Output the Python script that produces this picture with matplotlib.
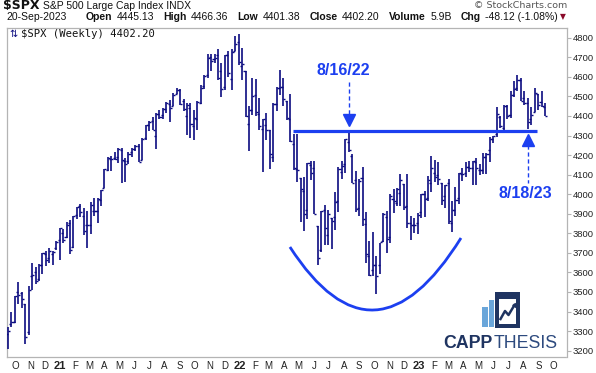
import matplotlib
matplotlib.use('Agg')
import matplotlib.pyplot as plt
import numpy as np
import pandas as pd
from matplotlib.patches import Rectangle, PathPatch
from matplotlib.path import Path

# ---------------- data (weekly OHLC, $SPX) ----------------
start_week = '2020-09-21'
opens = [3285, 3334, 3349, 3500, 3493, 3441, 3297, 3583, 3600, 3567, 3640, 3694, 3675, 3694, 3723,
         3764, 3803, 3781, 3851, 3731, 3892, 3939, 3886, 3842, 3844, 3913, 3916, 3969, 4034, 4124, 4179,
         4185, 4192, 4228, 4169, 4170, 4216, 4229, 4248, 4173, 4285, 4356, 4372, 4296, 4409, 4407, 4438,
         4461, 4450, 4514, 4535, 4474, 4402, 4442, 4348, 4385, 4464, 4553, 4610, 4701, 4689, 4712, 4628,
         4548, 4710, 4587, 4733,
         4778, 4655, 4632, 4357, 4432, 4505, 4412, 4332, 4354, 4327, 4189, 4462, 4541, 4547, 4474, 4385,
         4256, 4131, 4081, 4014, 3920, 4151, 4134, 3838, 3715, 3920, 3792, 3880, 3883, 3965, 4112, 4155,
         4269, 4195, 4071, 3930, 4084, 3849, 3682, 3610, 3636, 3638, 3762, 3881, 3780, 3977, 3956, 4005,
         4052, 3939, 3853, 3843,
         3853, 3911, 3999, 3979, 4056, 4106, 4097, 4057, 3993, 4055, 3855, 3918, 3982, 4102, 4110, 4140,
         4134, 4166, 4124, 4126, 4191, 4226, 4282, 4308, 4396, 4337, 4452, 4404, 4506, 4543, 4585, 4492,
         4464, 4384, 4420, 4511, 4473, 4445]
highs = [3320, 3398, 3482, 3549, 3502, 3441, 3529, 3646, 3628, 3644, 3699, 3712, 3726, 3711, 3760,
         3827, 3823, 3859, 3870, 3889, 3937, 3950, 3928, 3914, 3960, 3983, 3978, 4020, 4130, 4192, 4194,
         4218, 4238, 4237, 4187, 4218, 4234, 4249, 4258, 4286, 4355, 4372, 4393, 4416, 4430, 4442, 4470,
         4480, 4516, 4545, 4536, 4486, 4465, 4466, 4429, 4475, 4559, 4608, 4718, 4719, 4718, 4744, 4672,
         4713, 4731, 4740, 4808,
         4819, 4749, 4632, 4453, 4595, 4590, 4490, 4385, 4416, 4327, 4465, 4546, 4637, 4594, 4474, 4513,
         4308, 4307, 4081, 4090, 4158, 4168, 4169, 3838, 3913, 3946, 3918, 3880, 4013, 4140, 4168, 4280,
         4325, 4204, 4120, 4077, 4140, 3907, 3760, 3807, 3686, 3752, 3905, 3912, 4003, 4029, 4034, 4101,
         4053, 4101, 3890, 3878,
         3906, 4003, 4016, 4094, 4195, 4176, 4163, 4057, 4048, 4079, 3964, 4039, 4110, 4133, 4164, 4170,
         4171, 4187, 4154, 4212, 4213, 4290, 4299, 4448, 4401, 4458, 4456, 4528, 4578, 4607, 4594, 4527,
         4491, 4447, 4541, 4514, 4527, 4466]
lows = [3209, 3323, 3343, 3440, 3419, 3233, 3279, 3511, 3543, 3556, 3594, 3633, 3647, 3636, 3715,
        3663, 3750, 3777, 3694, 3725, 3874, 3885, 3789, 3723, 3794, 3886, 3853, 3938, 4034, 4118, 4118,
        4176, 4157, 4056, 4062, 4155, 4188, 4220, 4165, 4173, 4278, 4321, 4327, 4233, 4382, 4386, 4417,
        4367, 4450, 4513, 4457, 4427, 4305, 4288, 4279, 4329, 4459, 4537, 4595, 4630, 4672, 4585, 4495,
        4532, 4600, 4531, 4733,
        4662, 4582, 4395, 4223, 4405, 4401, 4327, 4115, 4279, 4129, 4162, 4425, 4507, 4450, 4381, 4269,
        4124, 4062, 3859, 3810, 3875, 4074, 3900, 3637, 3705, 3738, 3742, 3721, 3819, 3910, 4079, 4107,
        4218, 4057, 3907, 3887, 3837, 3648, 3584, 3584, 3492, 3591, 3758, 3698, 3750, 3906, 3938, 3938,
        3918, 3827, 3764, 3800,
        3794, 3877, 3885, 3966, 4011, 4060, 4048, 3943, 3928, 3846, 3809, 3889, 3951, 4069, 4086, 4114,
        4049, 4048, 4099, 4103, 4103, 4167, 4261, 4292, 4337, 4328, 4385, 4389, 4497, 4528, 4474, 4458,
        4335, 4356, 4419, 4430, 4448, 4401]
closes = [3298, 3348, 3477, 3484, 3465, 3270, 3509, 3585, 3558, 3638, 3699, 3663, 3709, 3703, 3756,
          3825, 3768, 3841, 3714, 3887, 3934, 3907, 3811, 3842, 3943, 3913, 3975, 4020, 4129, 4185, 4180,
          4181, 4233, 4174, 4156, 4204, 4230, 4247, 4166, 4281, 4352, 4370, 4327, 4412, 4395, 4437, 4468,
          4442, 4509, 4535, 4459, 4433, 4455, 4357, 4391, 4471, 4545, 4605, 4697, 4683, 4698, 4595, 4538,
          4712, 4620, 4726, 4766,
          4677, 4663, 4398, 4432, 4501, 4419, 4349, 4385, 4329, 4204, 4463, 4543, 4546, 4488, 4392, 4272,
          4132, 4123, 4024, 3901, 4158, 4109, 3901, 3675, 3912, 3825, 3899, 3863, 3962, 4130, 4145, 4280,
          4228, 4058, 3924, 4067, 3873, 3693, 3586, 3640, 3583, 3753, 3901, 3771, 3993, 3965, 4026, 4072,
          3934, 3852, 3845, 3840,
          3895, 3999, 3973, 4071, 4136, 4090, 4080, 3970, 4046, 3862, 3917, 3971, 4109, 4105, 4138, 4133,
          4169, 4136, 4124, 4192, 4205, 4282, 4299, 4410, 4348, 4450, 4399, 4505, 4536, 4582, 4478, 4464,
          4370, 4406, 4515, 4457, 4450, 4402]

y_ticks = [3200, 3300, 3400, 3500, 3600, 3700, 3800, 3900, 4000, 4100, 4200, 4300, 4400, 4500, 4600, 4700, 4800]
neckline = 4323
neck_span = [82.8, 153.7]
arrow_weeks = [99, 151]          # 8/16/22 high and 8/18/23 low
arrow_labels = ['8/16/22', '8/18/23']
arc_pts = [(81.9, 3730), (106.4, 3063), (131.6, 3776)]

# ---------------- figure ----------------
W, H = 596, 373
fig = plt.figure(figsize=(W / 100, H / 100), dpi=100)
fig.patch.set_facecolor('white')
ax = fig.add_axes([7 / W, (H - 357) / H, (567 - 7) / W, (357 - 28) / H])

n = len(closes)
x = np.arange(n)
bar_col = '#0c0c80'
ax.vlines(x, lows, highs, color=bar_col, lw=1.2, zorder=3)
ax.hlines(opens, x - 0.6, x, color=bar_col, lw=1.0, zorder=3)
ax.hlines(closes, x, x + 0.6, color=bar_col, lw=1.0, zorder=3)

ax.set_xlim(-0.3, 162.4)
ax.set_ylim(3167.6, 4849.6)

# annotations
blue = '#1c3ff0'
ax.plot(neck_span, [neckline, neckline], color=blue, lw=2.3, solid_capstyle='butt', zorder=4)
verts = [arc_pts[0], arc_pts[1], arc_pts[2]]
ax.add_patch(PathPatch(Path(verts, [Path.MOVETO, Path.CURVE3, Path.CURVE3]),
                       fill=False, edgecolor=blue, lw=2.0, zorder=4))
# arrow 1 (down)
ax.plot([arrow_weeks[0]] * 2, [4573, 4405], color=blue, lw=1.0, ls=(0, (3, 2)), zorder=4)
ax.plot(arrow_weeks[0], 4380, marker='v', color=blue, ms=8.5, mec=blue, zorder=5)
ax.text(97.3, 4632, arrow_labels[0], color=blue, fontsize=11.5, fontweight='bold',
        family='Liberation Sans', ha='center', va='center', zorder=5)
# arrow 2 (up)
ax.plot([arrow_weeks[1]] * 2, [4251, 4057], color=blue, lw=1.0, ls=(0, (3, 2)), zorder=4)
ax.plot(arrow_weeks[1], 4276, marker='^', color=blue, ms=8.5, mec=blue, zorder=5)
ax.text(150.2, 4005, arrow_labels[1], color=blue, fontsize=11.5, fontweight='bold',
        family='Liberation Sans', ha='center', va='center', zorder=5)

# axes styling
grey = '#b4b4b4'
for s in ['left', 'top', 'right']:
    ax.spines[s].set_color(grey)
    ax.spines[s].set_linewidth(0.9)
ax.spines['bottom'].set_color(grey)
ax.spines['bottom'].set_linestyle((0, (1, 1)))
ax.spines['bottom'].set_linewidth(0.9)
ax.yaxis.tick_right()
ax.set_yticks(y_ticks)
ax.set_yticklabels([str(v) for v in y_ticks], fontsize=6.8, family='Liberation Sans', color='#222222')
ax.tick_params(axis='y', length=3, width=0.8, color=grey, pad=1)

# month labels
weeks = pd.date_range(start_week, periods=n, freq='7D')
t0 = weeks[0]
months = pd.date_range('2020-10-01', '2023-10-01', freq='MS')
pos, labs = [], []
for m in months:
    pos.append((m - t0).days / 7.0 + 0.6)
    labs.append(str(m.year)[2:] if m.month == 1 else m.strftime('%b')[0])
ax.set_xticks(pos)
ax.set_xticklabels(labs, fontsize=7, family='Liberation Sans', color='#222222')
for lab, m in zip(ax.get_xticklabels(), months):
    if m.month == 1:
        lab.set_fontweight('bold')
        lab.set_fontsize(8)
ax.tick_params(axis='x', length=0, pad=3)

# ---------------- overlay (pixel coords) ----------------
ov = fig.add_axes([0, 0, 1, 1])
ov.set_xlim(0, W)
ov.set_ylim(H, 0)
ov.axis('off')
ov.patch.set_alpha(0)

ov.text(3, 5.2, '$SPX', fontsize=9, fontweight='bold', family='DejaVu Sans', va='center', color='#111111')
ov.text(43, 5.8, 'S&P 500 Large Cap Index INDX', fontsize=7.5, family='Liberation Sans',
        va='center', color='#111111')
ov.text(567, 5.5, '\u00a9 StockCharts.com', fontsize=6.8, ha='right', va='center',
        family='DejaVu Sans', color='#555555')

# quote line, laid out piece by piece
pieces = [('20-Sep-2023', False, 0), ('Open', True, 17), ('4445.13', False, 3),
          ('High', True, 7), ('4466.36', False, 3), ('Low', True, 7), ('4401.38', False, 3),
          ('Close', True, 7), ('4402.20', False, 3), ('Volume', True, 7), ('5.9B', False, 3),
          ('Chg', True, 7), ('-48.12 (-1.08%)', False, 3)]
renderer = fig.canvas.get_renderer()
fs = 7.5
objs = []
for t, b, g in pieces:
    objs.append(ov.text(0, 16.8, t, fontsize=fs, fontweight='bold' if b else 'normal',
                        family='Liberation Sans', color='#111111', va='center'))
widths = [o.get_window_extent(renderer).width for o in objs]
total = sum(widths) + sum(p[2] for p in pieces)
avail = 558 - 6
extra = max(0.0, (avail - total) / (len(pieces) - 1))
cx = 6.0
for i, (o, (t, b, g)) in enumerate(zip(objs, pieces)):
    if i > 0:
        cx += g + extra
    o.set_x(cx)
    cx += widths[i]
ov.text(cx + 2, 16.8, '\u25bc', fontsize=5.5, color='#8b0a2a', va='center', family='DejaVu Sans')

# legend line inside the plot
ov.text(9, 34, '\u21c5', fontsize=7, color=bar_col, va='center', family='DejaVu Sans')
ov.text(21, 34, '$SPX (Weekly) 4402.20', fontsize=7.6, color='#111111', va='center',
        family='DejaVu Sans Mono')

# logo
light = '#6aa6da'
navy = '#1f3461'
ov.add_patch(Rectangle((482, 307), 6, 20, color=light, lw=0))
ov.add_patch(Rectangle((489, 300), 5, 27, color=light, lw=0))
ov.add_patch(Rectangle((495, 292), 25, 36, color=navy, lw=0))
ov.add_patch(Rectangle((499, 299), 17, 25, color='white', lw=0))
ov.plot([500.5, 505, 508.5, 514.5], [319, 311, 315, 305], color=navy, lw=1.8)
ov.plot(514.5, 305, marker=(3, 0, -30), color=navy, ms=4)
ov.text(443, 348.5, 'CAPP', fontsize=12.8, fontweight='bold', color=navy,
        family='Liberation Sans', va='baseline')
ov.text(494, 348.5, 'THESIS', fontsize=12.8, color='#2d4a7e',
        family='Liberation Sans', va='baseline')

fig.savefig('out.png', dpi=100, facecolor='white')
